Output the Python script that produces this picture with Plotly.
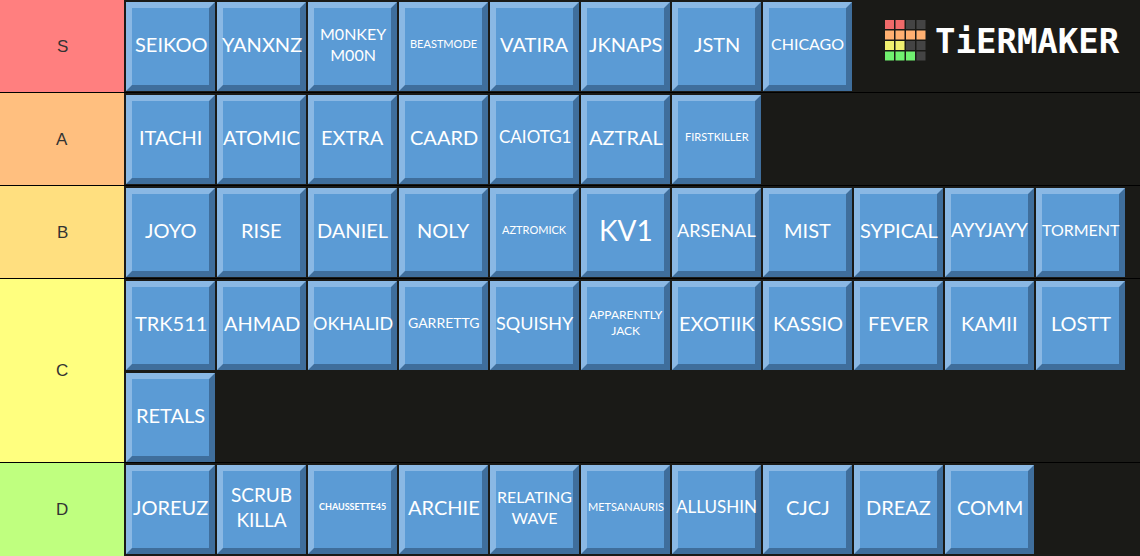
import plotly.graph_objects as go

tiers = ["S", "A", "B", "C", "D"]
tier_colors = ["#ff7f7f", "#ffbf7f", "#ffdf7f", "#ffff7f", "#bfff7f"]
s_items = ["SEIKOO", "YANXNZ", "M0NKEY<br>M00N", "BEASTMODE", "VATIRA", "JKNAPS", "JSTN", "CHICAGO"]
a_items = ["ITACHI", "ATOMIC", "EXTRA", "CAARD", "CAIOTG1", "AZTRAL", "FIRSTKILLER"]
b_items = ["JOYO", "RISE", "DANIEL", "NOLY", "AZTROMICK", "KV1", "ARSENAL", "MIST", "SYPICAL", "AYYJAYY", "TORMENT"]
c_items = ["TRK511", "AHMAD", "OKHALID", "GARRETTG", "SQUISHY", "APPARENTLY<br>JACK", "EXOTIIK", "KASSIO", "FEVER", "KAMII", "LOSTT", "RETALS"]
d_items = ["JOREUZ", "SCRUB<br>KILLA", "CHAUSSETTE45", "ARCHIE", "RELATING<br>WAVE", "METSANAURIS", "ALLUSHIN", "CJCJ", "DREAZ", "COMM"]
tier_items = [s_items, a_items, b_items, c_items, d_items]

# style: font sizes for individual tiles
font_size = {"M0NKEY<br>M00N": 16, "BEASTMODE": 11, "CHICAGO": 16, "CAIOTG1": 17, "FIRSTKILLER": 11,
             "AZTROMICK": 11, "KV1": 28, "ARSENAL": 18, "SYPICAL": 20, "AYYJAYY": 19, "TORMENT": 16,
             "GARRETTG": 14, "APPARENTLY<br>JACK": 12, "SQUISHY": 18, "EXOTIIK": 20, "OKHALID": 18,
             "SCRUB<br>KILLA": 19, "CHAUSSETTE45": 9, "RELATING<br>WAVE": 16, "METSANAURIS": 11, "ALLUSHIN": 17}

W, H = 1140, 556
row_tops = [0, 93, 186, 279, 463]
row_bots = [92, 185, 278, 462, 556]
shapes, ann = [], []
shapes.append(dict(type="rect", x0=0, x1=W, y0=0, y1=H, fillcolor="#000000", line_width=0, layer="below"))
for t, name in enumerate(tiers):
    y0, y1 = row_tops[t], row_bots[t]
    shapes.append(dict(type="rect", x0=124, x1=W, y0=y0, y1=y1, fillcolor="#1a1a17", line_width=0))
    shapes.append(dict(type="rect", x0=0, x1=124, y0=y0, y1=y1, fillcolor=tier_colors[t], line_width=0))
    ann.append(dict(x=62, y=(y0 + y1) / 2, text=name, showarrow=False, font=dict(size=17, color="#333", family="Liberation Sans")))
    for i, item in enumerate(tier_items[t]):
        col, sub = i % 11, i // 11
        tx0 = 126 + 91 * col
        tx1 = tx0 + 89
        ty0 = y0 + 2 + 92 * sub
        ty1 = ty0 + 89
        b = 6
        shapes.append(dict(type="rect", x0=tx0, x1=tx1, y0=ty0, y1=ty1, fillcolor="#8ab8e4", line_width=0))
        shapes.append(dict(type="path", path=f"M{tx1},{ty0} L{tx1},{ty1} L{tx0},{ty1} L{tx0+b},{ty1-b} L{tx1-b},{ty1-b} L{tx1-b},{ty0+b} Z",
                           fillcolor="#3f6e9c", line_width=0))
        shapes.append(dict(type="rect", x0=tx0 + b, x1=tx1 - b, y0=ty0 + b, y1=ty1 - b, fillcolor="#5b9bd5", line_width=0))
        label = f"<b>{item}</b>" if item == "CHAUSSETTE45" else item
        ann.append(dict(x=(tx0 + tx1) / 2, y=(ty0 + ty1) / 2, text=label, showarrow=False, yshift=3,
                        font=dict(size=font_size.get(item, 20), color="white", family="Lato")))

# logo
logo = [["#f06a6a", "#f06a6a", "#444", "#444"], ["#ffb071", "#ffb071", "#ffb071", "#ffb071"],
        ["#f0f070", "#f0f070", "#444", "#444"], ["#70f070", "#70f070", "#70f070", "#444"]]
for r in range(4):
    for c in range(4):
        x0 = 885 + c * 10.5
        y0 = 20 + r * 10.5
        shapes.append(dict(type="rect", x0=x0, x1=x0 + 9, y0=y0, y1=y0 + 9, fillcolor=logo[r][c], line_width=0))
ann.append(dict(x=1027, y=41, text="<b>TiERMAKER</b>", showarrow=False, font=dict(size=34, color="white", family="DejaVu Sans Mono")))

fig = go.Figure()
fig.update_layout(width=W, height=H, margin=dict(l=0, r=0, t=0, b=0), shapes=shapes, annotations=ann,
                  paper_bgcolor="#000", plot_bgcolor="#000",
                  xaxis=dict(range=[0, W], visible=False, fixedrange=True),
                  yaxis=dict(range=[H, 0], visible=False, fixedrange=True), showlegend=False)
fig.write_html("out.html", config={"displayModeBar": False},
               post_script="document.body.style.margin='0';document.body.style.overflow='hidden';")
